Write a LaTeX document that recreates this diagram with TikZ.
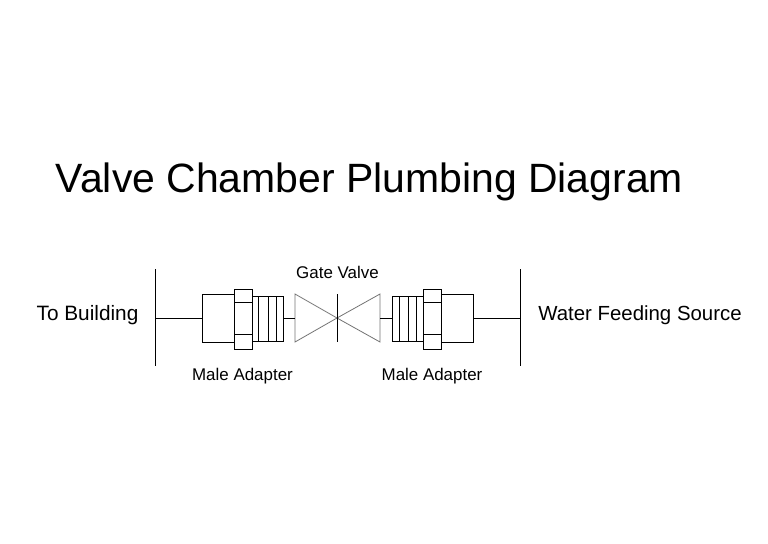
\documentclass[tikz,border=0pt]{standalone}
\usepackage{fontspec}
\setmainfont{Liberation Sans}
\tikzset{
  px/.style={x=0.75pt,y=-0.75pt},
  part/.style={draw=black,line width=0.75pt},
  gate/.style={draw=black!55,line width=0.6pt},
  pipe/.style={draw=black,line width=0.75pt},
  title/.style={inner sep=0pt,font=\fontsize{30.7pt}{36pt}\selectfont},
  big/.style={inner sep=0pt,font=\fontsize{15.6pt}{18pt}\selectfont},
  bigb/.style={inner sep=0pt,font=\fontsize{15.3pt}{18pt}\selectfont},
  small/.style={inner sep=0pt,font=\fontsize{12.7pt}{14pt}\selectfont},
}
\newcommand{\pbox}[5]{\node[part,inner sep=0pt,minimum width={(#4-#2)*0.75pt},minimum height={(#5-#3)*0.75pt},anchor=north west] (#1) at (#2,#3) {};}
\begin{document}
\begin{tikzpicture}[px]
\useasboundingbox (0,0) rectangle (768,543);
\node[title] (ttl) at (369.5,182) {Valve Chamber Plumbing Diagram};
\node[big] (tob) at (87.5,315) {To Building};
\node[bigb] (wfs) at (640,315) {Water Feeding Source};
\node[small] (gv) at (337.5,272) {Gate Valve};
\node[small] (ma1) at (242.5,376.5) {Male Adapter};
\node[small] (ma2) at (432,376.5) {Male Adapter};
% walls
\coordinate (wl1) at (155,269); \coordinate (wl2) at (155,366);
\coordinate (wr1) at (520,269); \coordinate (wr2) at (520,366);
\coordinate (wl) at (155,318); \coordinate (wr) at (520,318);
\draw[pipe] (wl1) -- (wl2);
\draw[pipe] (wr1) -- (wr2);
% left adapter
\pbox{bodyl}{202}{294}{234}{342}
\pbox{hexl}{234}{289}{252}{349}
\pbox{hexlm}{234}{302}{252}{334}
\pbox{thl}{252}{296}{283}{341}
\draw[part] (258,296) -- (258,341) (268,296) -- (268,341) (276,296) -- (276,341);
% right adapter
\pbox{thr}{392}{296}{423}{341}
\draw[part] (399,296) -- (399,341) (408,296) -- (408,341) (416,296) -- (416,341);
\pbox{hexr}{423}{289}{441}{349}
\pbox{hexrm}{423}{302}{441}{334}
\pbox{bodyr}{441}{294}{473}{342}
% valve
\coordinate (tip) at (337,318);
\coordinate (vl1) at (295,294); \coordinate (vl2) at (295,342);
\coordinate (vr1) at (380,294); \coordinate (vr2) at (380,342);
\coordinate (st1) at (337,294); \coordinate (st2) at (337,342);
\coordinate (vlm) at (295,318); \coordinate (vrm) at (380,318);
\draw[gate] (vl1) -- (tip) -- (vl2) -- cycle;
\draw[gate] (vr1) -- (tip) -- (vr2) -- cycle;
\draw[pipe] (st1) -- (st2);
% pipes
\draw[pipe] (wl) -- (wl -| bodyl.west);
\draw[pipe] (vlm -| thl.east) -- (vlm);
\draw[pipe] (vrm) -- (vrm -| thr.west);
\draw[pipe] (wr -| bodyr.east) -- (wr);
\end{tikzpicture}
\end{document}
